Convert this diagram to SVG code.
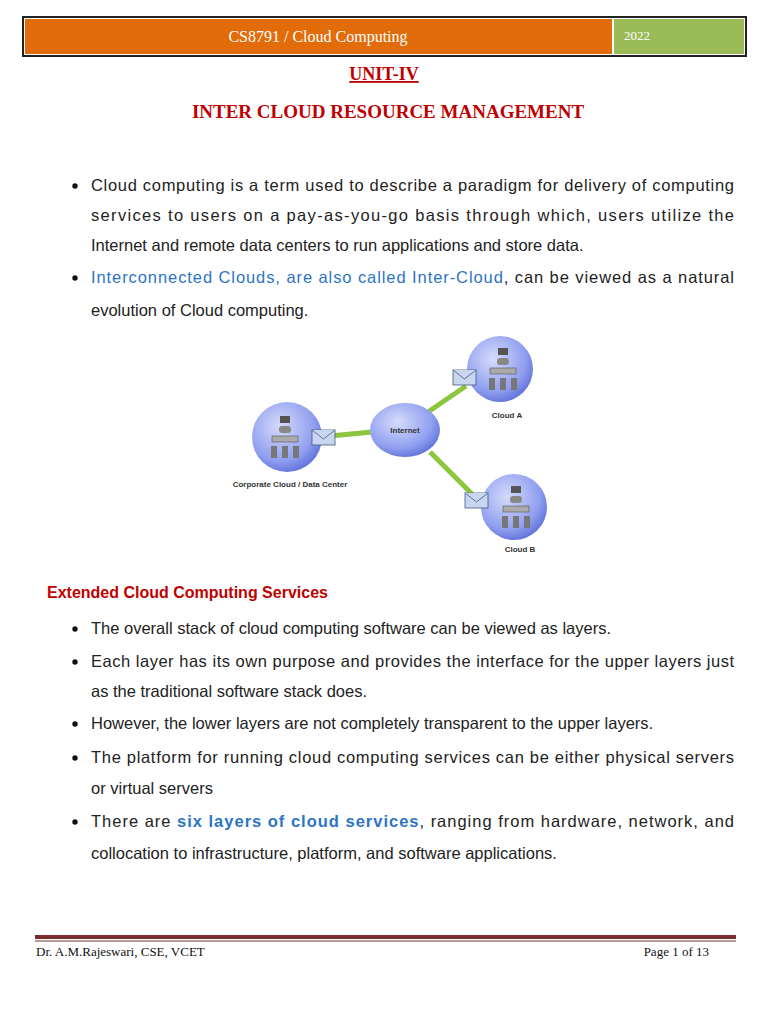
<svg xmlns="http://www.w3.org/2000/svg" width="768" height="1024" viewBox="0 0 768 1024">
<defs>
<style>
.b{font-family:"Liberation Sans",Arial,sans-serif;font-size:16.5px;fill:#222}
.hl{fill:#2e74c5}
.sv{font-family:"Liberation Serif",serif}
.lbl{font-family:"Liberation Sans",Arial,sans-serif;font-size:8px;font-weight:bold;fill:#333;text-anchor:middle}
.dot{fill:#111}
.link{stroke:#8cc63f;stroke-width:5;fill:none}
.env{fill:#c9d6f0;stroke:#44597f;stroke-width:0.8}
</style>
<radialGradient id="g" cx="0.4" cy="0.35" r="0.7">
<stop offset="0" stop-color="#d6dcfb"/><stop offset="0.7" stop-color="#8f9ef0"/><stop offset="1" stop-color="#5d6ed6"/>
</radialGradient>
<g id="srv">
<rect x="-5" y="-24" width="10" height="7" fill="#555"/>
<rect x="-6" y="-14" width="12" height="7" rx="3" fill="#888"/>
<rect x="-13" y="-4" width="26" height="6" fill="#aaa" stroke="#555" stroke-width="0.6"/>
<rect x="-14" y="6" width="6" height="12" fill="#777"/>
<rect x="-3" y="6" width="6" height="12" fill="#777"/>
<rect x="8" y="6" width="6" height="12" fill="#777"/>
</g>
</defs>
<rect width="768" height="1024" fill="#fff"/>
<g id="header">
<rect x="23" y="17" width="723" height="39" fill="none" stroke="#222" stroke-width="2"/>
<rect x="25" y="19" width="587" height="35" fill="#e26b0a"/>
<rect x="614" y="19" width="130" height="35" fill="#9bbb59"/>
<text x="318" y="42" class="sv" font-size="16" fill="#fff" text-anchor="middle">CS8791 / Cloud Computing</text>
<text x="624" y="40" class="sv" font-size="13" fill="#fff">2022</text>
</g>
<text x="384" y="80" class="sv" font-size="18" font-weight="bold" fill="#c00000" text-anchor="middle" text-decoration="underline">UNIT-IV</text>
<text x="388" y="118" class="sv" font-size="19" font-weight="bold" fill="#c00000" text-anchor="middle">INTER CLOUD RESOURCE MANAGEMENT</text>
<circle cx="75" cy="186" r="2.7" class="dot"/>
<text x="91" y="191" class="b" textLength="643" lengthAdjust="spacing">Cloud computing is a term used to describe a paradigm for delivery of computing</text>
<text x="91" y="221" class="b" textLength="643" lengthAdjust="spacing">services to users on a pay-as-you-go basis through which, users utilize the</text>
<text x="91" y="251" class="b">Internet and remote data centers to run applications and store data.</text>
<circle cx="75" cy="278" r="2.7" class="dot"/>
<text x="91" y="283" class="b" textLength="643" lengthAdjust="spacing"><tspan class="hl">Interconnected Clouds, are also called Inter-Cloud</tspan>, can be viewed as a natural</text>
<text x="91" y="316" class="b">evolution of Cloud computing.</text>
<g id="connectors">
<line x1="330" y1="436" x2="372" y2="432" class="link"/>
<line x1="428" y1="412" x2="466" y2="386" class="link"/>
<line x1="430" y1="452" x2="472" y2="494" class="link"/>
</g>
<g id="corporate">
<circle cx="287" cy="437" r="35" fill="url(#g)"/>
<use href="#srv" x="285" y="440"/>
<rect x="312" y="430" width="23" height="15" class="env"/><path d="M312 430 L323.5 439 L335 430" class="env" fill="none"/>
<text x="290" y="487" class="lbl">Corporate Cloud / Data Center</text>
</g>
<g id="internet">
<ellipse cx="405" cy="430" rx="35" ry="27" fill="url(#g)"/>
<text x="405" y="433" class="lbl" font-size="10">Internet</text>
</g>
<g id="cloudA">
<circle cx="500" cy="369" r="33" fill="url(#g)"/>
<use href="#srv" x="503" y="372"/>
<rect x="453" y="370" width="23" height="15" class="env"/><path d="M453 370 L464.5 379 L476 370" class="env" fill="none"/>
<text x="507" y="418" class="lbl">Cloud A</text>
</g>
<g id="cloudB">
<circle cx="514" cy="507" r="33" fill="url(#g)"/>
<use href="#srv" x="516" y="510"/>
<rect x="465" y="493" width="23" height="15" class="env"/><path d="M465 493 L476.5 502 L488 493" class="env" fill="none"/>
<text x="520" y="552" class="lbl">Cloud B</text>
</g>
<text x="47" y="598" font-family="Liberation Sans,Arial,sans-serif" font-size="16" font-weight="bold" fill="#c00000">Extended Cloud Computing Services</text>
<circle cx="75" cy="629" r="2.7" class="dot"/>
<text x="91" y="634" class="b">The overall stack of cloud computing software can be viewed as layers.</text>
<circle cx="75" cy="662" r="2.7" class="dot"/>
<text x="91" y="667" class="b" textLength="643" lengthAdjust="spacing">Each layer has its own purpose and provides the interface for the upper layers just</text>
<text x="91" y="697" class="b">as the traditional software stack does.</text>
<circle cx="75" cy="724" r="2.7" class="dot"/>
<text x="91" y="729" class="b">However, the lower layers are not completely transparent to the upper layers.</text>
<circle cx="75" cy="758" r="2.7" class="dot"/>
<text x="91" y="763" class="b" textLength="643" lengthAdjust="spacing">The platform for running cloud computing services can be either physical servers</text>
<text x="91" y="794" class="b">or virtual servers</text>
<circle cx="75" cy="822" r="2.7" class="dot"/>
<text x="91" y="827" class="b" textLength="643" lengthAdjust="spacing">There are <tspan class="hl" font-weight="bold">six layers of cloud services</tspan>, ranging from hardware, network, and</text>
<text x="91" y="859" class="b">collocation to infrastructure, platform, and software applications.</text>
<g id="footer">
<rect x="35" y="935" width="701" height="4" fill="#7b2c2c"/>
<line x1="35" y1="941" x2="736" y2="941" stroke="#7b2c2c" stroke-width="1"/>
<text x="36" y="956" class="sv" font-size="13" fill="#111">Dr. A.M.Rajeswari, CSE, VCET</text>
<text x="709" y="956" class="sv" font-size="13" fill="#111" text-anchor="end">Page 1 of 13</text>
</g>
</svg>
